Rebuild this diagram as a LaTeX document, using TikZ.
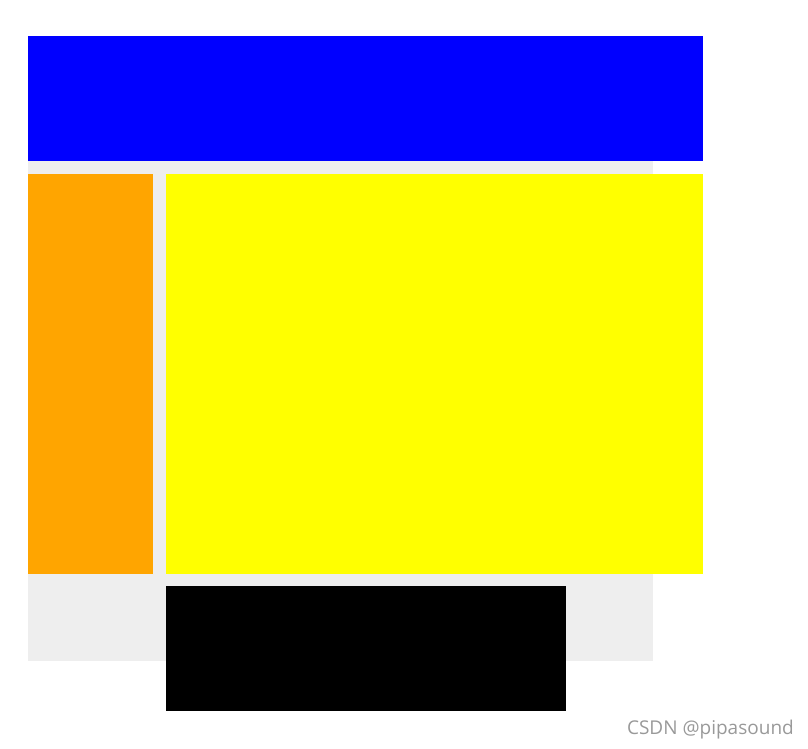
\documentclass[tikz,border=0pt]{standalone}
\usepackage{fontspec}
\setsansfont{Open Sans}
\usetikzlibrary{positioning}

\definecolor{cssorange}{HTML}{FFA500}
\definecolor{cssyellow}{HTML}{FFFF00}
\definecolor{framegray}{HTML}{EEEEEE}

\tikzset{
  box/.style={draw=none,inner sep=0pt,outer sep=0pt,anchor=north west},
  mark text/.style={font=\sffamily\fontsize{19}{19}\selectfont,text=black!40,anchor=base east,inner sep=0pt}
}

\begin{document}
\begin{tikzpicture}[x=1pt,y=-1pt]

   % Frame
      \useasboundingbox (0,0) rectangle (808,748);

   % Boxes
      \node[box,fill=framegray,minimum width=625pt,minimum height=625pt] (frame)  at (28,36)   {};
      \node[box,fill=blue,minimum width=675pt,minimum height=125pt]      (head)   at (28,36)   {};
      \node[box,fill=cssorange,minimum width=125pt,minimum height=400pt] (side)   at (28,174)  {};
      \node[box,fill=cssyellow,minimum width=537pt,minimum height=400pt] (main)   at (166,174) {};
      \node[box,fill=black,minimum width=400pt,minimum height=125pt]     (foot)   at (166,586) {};

   % Watermark
      \node[mark text] (wm) at (794,734) {CSDN @pipasound};
\end{tikzpicture}
\end{document}
